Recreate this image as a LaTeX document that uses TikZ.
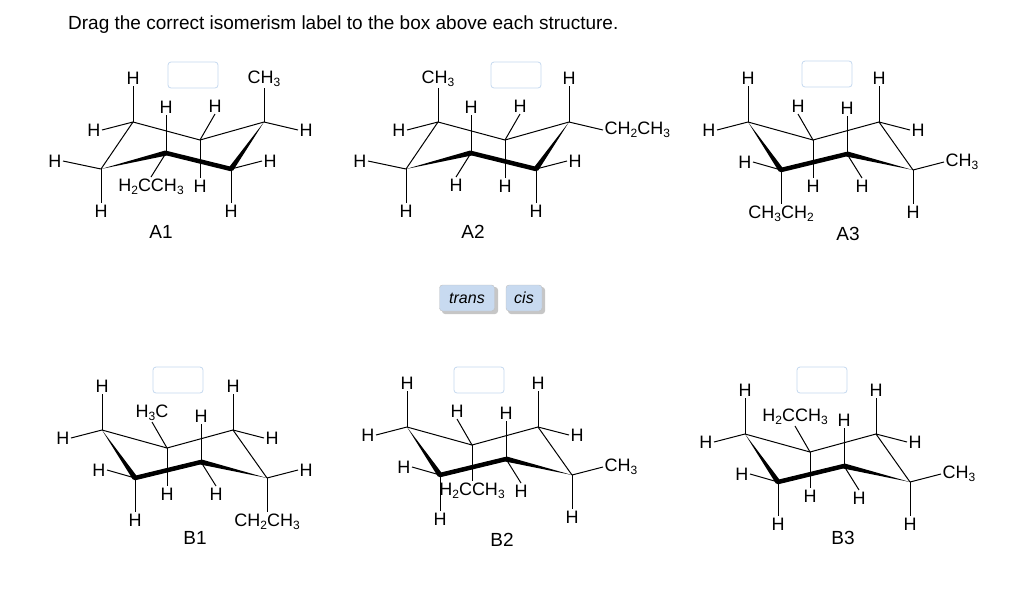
\documentclass[tikz,border=0pt]{standalone}
\usepackage{fontspec}
\setmainfont{Liberation Sans}
\usetikzlibrary{calc}
\definecolor{btnfill}{HTML}{C8DAF0}
\definecolor{boxline}{HTML}{C4D8EE}
\newcommand{\sbs}[1]{\raisebox{-3pt}{\fontsize{12}{12}\selectfont #1}}
\newcommand{\wdg}[2]{\fill ($(#1)$) -- ($(#2)!2.6pt!90:(#1)$) -- ($(#2)!2.6pt!-90:(#1)$) -- cycle;}
\newcommand{\chairA}[3]{%
 \begin{scope}[shift={(#2,#3)}]
  \coordinate (#1a) at (0,0); \coordinate (#1b) at (-32,47); \coordinate (#1c) at (33,31);
  \coordinate (#1d) at (98,47); \coordinate (#1e) at (131,0); \coordinate (#1f) at (67,18);
 \end{scope}
 \draw[bond] (#1a)--(#1b); \draw[bond] (#1e)--(#1f)--(#1a);
 \wdg{#1b}{#1c} \draw[line width=4.5pt,line cap=round] (#1c)--(#1d); \wdg{#1e}{#1d}}
\newcommand{\chairB}[3]{%
 \begin{scope}[shift={(#2,#3)}]
  \coordinate (#1a) at (0,0); \coordinate (#1b) at (33,48); \coordinate (#1c) at (65,18);
  \coordinate (#1d) at (99,32); \coordinate (#1e) at (131,0); \coordinate (#1f) at (165,48);
 \end{scope}
 \draw[bond] (#1a)--(#1c)--(#1e)--(#1f);
 \wdg{#1a}{#1b} \draw[line width=4.5pt,line cap=round] (#1b)--(#1d); \wdg{#1f}{#1d}}
\newcommand{\sbt}[5]{\draw[bond] (#1) -- ++(#2,#3) node[lab,anchor=#4] {#5};}
\tikzset{bond/.style={line width=1pt},
 lab/.style={inner sep=1.2pt,font=\fontsize{18}{18}\selectfont},
 dropbox/.style={draw=boxline,rounded corners=3pt,minimum width=50pt,minimum height=26pt,line width=0.8pt},
 btn/.style={fill=btnfill,draw=gray!50,rounded corners=3pt,minimum height=26pt,font=\fontsize{16}{16}\selectfont\itshape},
 molname/.style={font=\fontsize{19}{19}\selectfont}}
\begin{document}
\begin{tikzpicture}[x=1pt,y=-1pt]
\useasboundingbox (0,0) rectangle (1024,614);
\node[anchor=west,font=\fontsize{19}{19}\selectfont,inner sep=0pt] (title) at (68,25) {Drag the correct isomerism label to the box above each structure.};
\node[dropbox] (bA1) at (193,75) {}; \node[dropbox] (bA2) at (516,75) {}; \node[dropbox] (bA3) at (827,74) {};
\node[dropbox] (bB1) at (178,380) {}; \node[dropbox] (bB2) at (479,380) {}; \node[dropbox] (bB3) at (822,380) {};
\fill[gray!45,rounded corners=3pt] (442,287) rectangle (498,314);
\fill[gray!45,rounded corners=3pt] (508,287) rectangle (545,314);
\node[btn,minimum width=55pt] (trans) at (467,298) {trans};
\node[btn,minimum width=36pt] (cis) at (524,298) {cis};
% A1
\chairA{p}{133}{122}
\sbt{pa}{0}{-36}{south}{H} \sbt{pa}{-31}{8}{east}{H}
\sbt{pb}{-38}{-8}{east}{H} \sbt{pb}{0}{34}{north}{H}
\sbt{pc}{0}{-38}{south}{H} \sbt{pc}{-15}{24}{north}{H\sbs{2}CCH\sbs{3}}
\sbt{pd}{0}{34}{north}{H} \sbt{pd}{31}{-8}{west}{H}
\sbt{pe}{0}{-34}{south}{CH\sbs{3}} \sbt{pe}{34}{8}{west}{H}
\sbt{pf}{0}{38}{north}{H} \sbt{pf}{15}{-26}{south}{H}
\node[molname] (nA1) at (161,232) {A1};
% A2
\chairA{q}{438}{122}
\sbt{qa}{0}{-34}{south}{CH\sbs{3}} \sbt{qa}{-31}{8}{east}{H}
\sbt{qb}{-38}{-8}{east}{H} \sbt{qb}{0}{34}{north}{H}
\sbt{qc}{0}{-38}{south}{H} \sbt{qc}{-15}{24}{north}{H}
\sbt{qd}{0}{34}{north}{H} \sbt{qd}{31}{-8}{west}{H}
\sbt{qe}{0}{-36}{south}{H} \sbt{qe}{34}{8}{west}{CH\sbs{2}CH\sbs{3}}
\sbt{qf}{0}{38}{north}{H} \sbt{qf}{15}{-26}{south}{H}
\node[molname] (nA2) at (473,232) {A2};
% A3
\chairB{r}{748}{122}
\sbt{ra}{0}{-36}{south}{H} \sbt{ra}{-31}{8}{east}{H}
\sbt{rb}{-28}{-8}{east}{H} \sbt{rb}{0}{34}{north}{CH\sbs{3}CH\sbs{2}}
\sbt{rc}{-15}{-26}{south}{H} \sbt{rc}{0}{38}{north}{H}
\sbt{rd}{0}{-38}{south}{H} \sbt{rd}{15}{24}{north}{H}
\sbt{re}{0}{-36}{south}{H} \sbt{re}{31}{8}{west}{H}
\sbt{rf}{31}{-8}{west}{CH\sbs{3}} \sbt{rf}{0}{34}{north}{H}
\node[molname] (nA3) at (848,234) {A3};
% B1
\chairB{s}{102}{430}
\sbt{sa}{0}{-36}{south}{H} \sbt{sa}{-31}{8}{east}{H}
\sbt{sb}{-28}{-8}{east}{H} \sbt{sb}{0}{34}{north}{H}
\sbt{sc}{-15}{-26}{south}{H\sbs{3}C} \sbt{sc}{0}{38}{north}{H}
\sbt{sd}{0}{-38}{south}{H} \sbt{sd}{15}{24}{north}{H}
\sbt{se}{0}{-36}{south}{H} \sbt{se}{31}{8}{west}{H}
\sbt{sf}{31}{-8}{west}{H} \sbt{sf}{0}{34}{north}{CH\sbs{2}CH\sbs{3}}
\node[molname] (nB1) at (195,538) {B1};
% B2
\chairB{t}{407}{427}
\sbt{ta}{0}{-36}{south}{H} \sbt{ta}{-31}{8}{east}{H}
\sbt{tb}{-28}{-8}{east}{H} \sbt{tb}{0}{36}{north}{H}
\sbt{tc}{-15}{-26}{south}{H} \sbt{tc}{0}{36}{north}{H\sbs{2}CCH\sbs{3}}
\sbt{td}{0}{-38}{south}{H} \sbt{td}{15}{24}{north}{H}
\sbt{te}{0}{-36}{south}{H} \sbt{te}{31}{8}{west}{H}
\sbt{tf}{31}{-8}{west}{CH\sbs{3}} \sbt{tf}{0}{34}{north}{H}
\node[molname] (nB2) at (502,540) {B2};
% B3
\chairB{u}{745}{434}
\sbt{ua}{0}{-36}{south}{H} \sbt{ua}{-31}{8}{east}{H}
\sbt{ub}{-28}{-8}{east}{H} \sbt{ub}{0}{34}{north}{H}
\sbt{uc}{-15}{-26}{south}{H\sbs{2}CCH\sbs{3}} \sbt{uc}{0}{36}{north}{H}
\sbt{ud}{0}{-38}{south}{H} \sbt{ud}{15}{24}{north}{H}
\sbt{ue}{0}{-36}{south}{H} \sbt{ue}{31}{8}{west}{H}
\sbt{uf}{31}{-8}{west}{CH\sbs{3}} \sbt{uf}{0}{34}{north}{H}
\node[molname] (nB3) at (843,538) {B3};
\end{tikzpicture}
\end{document}
